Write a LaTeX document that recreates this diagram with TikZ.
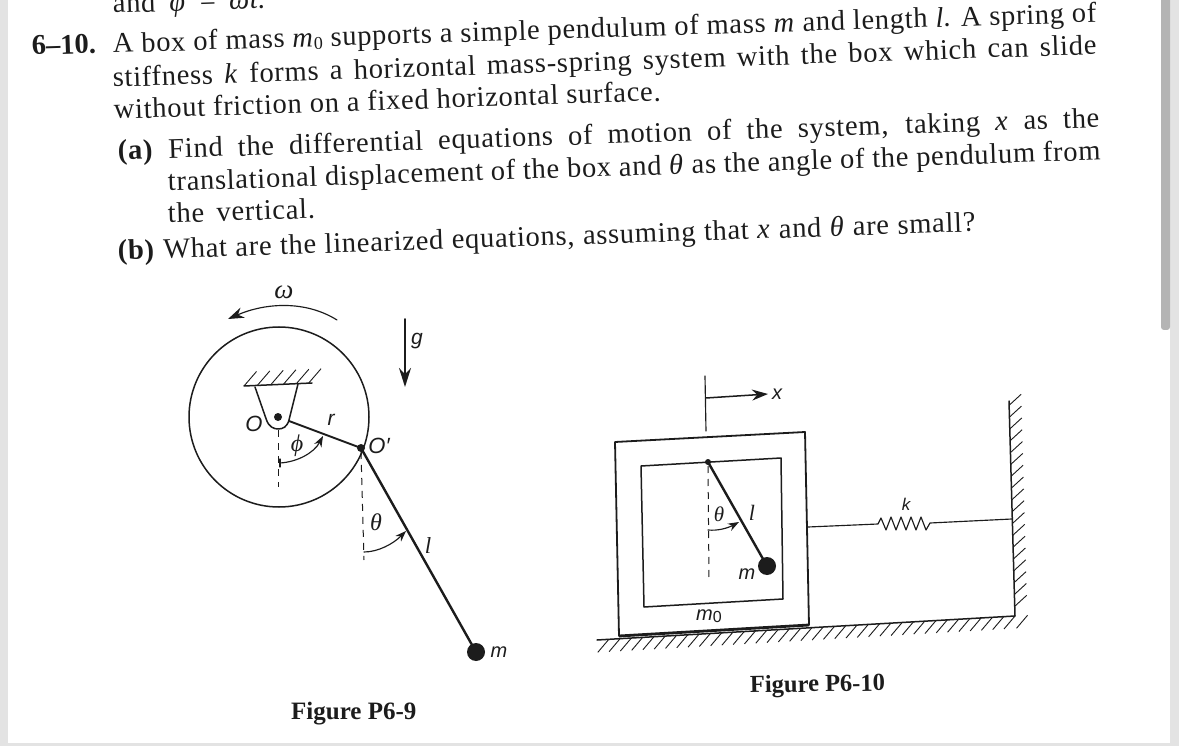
\documentclass[tikz,border=0pt]{standalone}
\usepackage{fontspec}
\setmainfont{Liberation Serif}
\newfontfamily\figfont{Liberation Sans}
\newfontfamily\bodyfont[LetterSpace=2.5]{Liberation Serif}
\usetikzlibrary{calc,arrows.meta}
\definecolor{ink}{HTML}{1C1C1C}
\definecolor{sidegray}{HTML}{E3E3E3}
\definecolor{barGray}{HTML}{B4B4B4}
\tikzset{
  txtline/.style={anchor=base west,inner sep=0pt,text=ink,rotate=1.9,font=\bodyfont\fontsize{28.5}{30}\selectfont},
  caption/.style={anchor=base west,inner sep=0pt,text=ink,font=\bfseries\fontsize{25}{27}\selectfont},
  figlabel/.style={inner sep=0pt,text=ink,font=\figfont\itshape\fontsize{20}{22}\selectfont},
  figletter/.style={inner sep=0pt,text=ink,font=\itshape\fontsize{23}{25}\selectfont},
  figgreek/.style={inner sep=0pt,text=ink,font=\itshape\fontsize{24}{26}\selectfont},
  wire/.style={draw=ink,line width=1.5pt,line cap=round,line join=round},
  hairline/.style={draw=ink,line width=1.15pt,line cap=round},
  hatch/.style={draw=ink,line width=0.9pt},
  rod/.style={draw=ink,line width=2.4pt,line cap=round},
  dashline/.style={draw=ink,line width=1pt,dash pattern=on 7pt off 6pt},
  tip/.style={-{Stealth[length=16pt,width=11pt]}},
  smalltip/.style={-{Stealth[length=11pt,width=8pt]}}
}
\newcommand{\tline}[5]{\node[txtline,#5] (#1) at (#2) {\hbox to #3pt{#4}};}
\newcommand{\mo}{\textit{m}\raisebox{-3pt}{\fontsize{18}{18}\selectfont 0}}
\begin{document}
\begin{tikzpicture}[x=1pt,y=-1pt]
\useasboundingbox (0,0) rectangle (1179,746);
\fill[white] (0,0) rectangle (1179,746);
\fill[sidegray] (0,0) rectangle (8,746);
\fill[sidegray] (1170,0) rectangle (1179,746);
\fill[sidegray] (0,743) rectangle (1179,746);
\fill[barGray,rounded corners=3pt] (1161,-8) rectangle (1170,330);
% text
\node[txtline] (l0) at (113,13) {\hbox to 152pt{and\hskip 14pt\textit{φ}\hskip 14pt=\hskip 13pt\textit{ωt}.\hss}};
\node[txtline,font=\bfseries\fontsize{28.5}{30}\selectfont] (num) at (32,55) {6–10.};
\tline{l1}{113,53}{984}{A box of mass \mo{} supports a simple pendulum of mass \textit{m} and length \textit{l}. A spring of}{rotate=-0.1}
\tline{l2}{113,87}{984}{stiffness \textit{k} forms a horizontal mass-spring system with the box which can slide}{}
\tline{l3}{114,119}{547}{without friction on a fixed horizontal surface.}{}
\tline{a1}{118,160}{982}{\textbf{(a)} Find the differential equations of motion of the system, taking \textit{x} as the}{}
\tline{a2}{168,191}{933}{translational displacement of the box and \textit{θ} as the angle of the pendulum from}{}
\tline{a3}{168,223}{147}{the vertical.}{}
\tline{b1}{118,260}{858}{\textbf{(b)} What are the linearized equations, assuming that \textit{x} and \textit{θ} are small?}{}
\node[caption] (cap9) at (291,719) {Figure P6-9};
\node[caption,rotate=1,font=\bfseries\fontsize{24.5}{26}\selectfont] (cap10) at (750,693) {Figure P6-10};
% ---------- Figure P6-9
\node[draw=ink,line width=1.5pt,circle,minimum size=180pt,inner sep=0pt] (disc) at (279,417) {};
\coordinate (ceilL) at (244,386); \coordinate (ceilR) at (312,383);
\draw[wire] (ceilL) -- (ceilR);
\foreach \t in {0,0.196,0.393,0.58,0.77,0.95}
  \draw[hatch] ($(ceilL)!\t!(ceilR)$) -- +(12.5,-14.5);
\draw[wire] (255,387) -- (266.5,420) .. controls (269,427) and (274,429) .. (278,429)
  .. controls (283,429) and (287,427) .. (289,420) -- (298,384);
\node[fill=ink,circle,minimum size=8pt,inner sep=0pt] (piv) at (278,417) {};
\coordinate (dashA) at (278,430); \coordinate (dashB) at (278,487);
\draw[dashline] (dashA) -- (dashB);
\node[fill=ink,circle,minimum size=8pt,inner sep=0pt] (op) at (361,448) {};
\coordinate (rEnd) at (289,421);
\draw[wire,line width=1.9pt] (rEnd) -- (op.center);
\node[fill=ink,circle,minimum size=18pt,inner sep=0pt] (bob9) at (476,652) {};
\draw[rod] (op.center) -- (bob9.center);
\coordinate (dashC) at (361,452); \coordinate (dashD) at (364,560);
\draw[dashline] (dashC) -- (dashD);
\draw[hairline,smalltip] (364,552) .. controls (378,552) and (393,544) .. (406,531);
\draw[hairline] (280,459) -- (280,467);
\draw[hairline,smalltip] (280,463) .. controls (297,462) and (314,453) .. (323,436);
\draw[hairline,tip] (337,320) .. controls (305,300) and (265,303) .. (228,319);
\coordinate (gTop) at (405,319); \coordinate (gBot) at (405,387);
\draw[wire,line width=1.8pt,-{Stealth[length=19pt,width=12pt]}] (gTop) -- (gBot);
\node[figgreek,font=\itshape\fontsize{27}{29}\selectfont] (omega) at (284,292) {ω};
\node[figlabel,font=\figfont\itshape\fontsize{21}{23}\selectfont] (glab) at (417,341) {g};
\node[figlabel,font=\figfont\itshape\fontsize{22}{24}\selectfont] (Olab) at (254,424) {O};
\node[figlabel,font=\figfont\itshape\fontsize{21}{23}\selectfont] (rlab) at (331,420) {r};
\node[figgreek] (philab) at (297,446) {ϕ};
\node[figlabel,font=\figfont\itshape\fontsize{22}{24}\selectfont] (Oplab) at (379,446) {O′};
\node[figgreek] (th9) at (376,522) {θ};
\node[figletter] (l9) at (428,546) {l};
\node[figlabel] (m9) at (499,652) {m};
% ---------- Figure P6-10
\coordinate (oA) at (615,442); \coordinate (oB) at (805,432);
\coordinate (oC) at (809,625); \coordinate (oD) at (619,636);
\draw[wire,line width=1.8pt] (oD) -- (oA) -- (oB) -- (oC);
\draw[draw=ink,line width=2.8pt] (oD) -- (oC);
\coordinate (iA) at (641,466); \coordinate (iB) at (781,458);
\coordinate (iC) at (783,599); \coordinate (iD) at (644,607);
\draw[wire] (iA) -- (iB) -- (iC) -- (iD) -- cycle;
\node[fill=ink,circle,minimum size=6pt,inner sep=0pt] (piv10) at (708,462) {};
\node[fill=ink,circle,minimum size=18pt,inner sep=0pt] (bob10) at (767,566) {};
\draw[rod] (piv10.center) -- (bob10.center);
\coordinate (d10a) at (708,466); \coordinate (d10b) at (709,578);
\draw[dashline] (d10a) -- (d10b);
\draw[hairline,smalltip] (708,530) .. controls (718,531) and (728,528) .. (739,522);
\coordinate (mkTop) at (705,376); \coordinate (mkBot) at (706,431);
\draw[hairline] (mkTop) -- (mkBot);
\coordinate (xS) at (706,398); \coordinate (xE) at (768,394);
\draw[wire,tip] (xS) -- (xE);
\node[figlabel] (xlab) at (777,394) {x};
\coordinate (wTop) at (1009,401); \coordinate (corner) at (1015,616);
\coordinate (fL) at (597,640);
\draw[wire] (wTop) -- (corner) -- (fL);
\foreach \t in {0.02,0.075,...,1.0}
  \draw[hatch] ($(wTop)!\t!(corner)$) -- +(12,-11);
\foreach \t in {-0.03,0.0,0.027,...,0.975}
  \draw[hatch] ($(corner)!\t!(fL)$) -- +(-11,13);
\coordinate (sA) at (808,527); \coordinate (sB) at (878,524);
\coordinate (sC) at (930,523); \coordinate (sD) at (1012,519);
\draw[hairline,line join=round] (sA) -- (sB) -- (881,518) -- (886,530) -- (891,517) -- (896,530) -- (901,517) -- (906,530) -- (911,517) -- (916,530) -- (921,517) -- (926,530) -- (sC) -- (sD);
\node[figlabel,font=\figfont\itshape\fontsize{17}{19}\selectfont] (klab) at (906,504) {k};
\node[figgreek,font=\itshape\fontsize{21}{23}\selectfont] (th10) at (719,514) {θ};
\node[figletter,font=\itshape\fontsize{22}{24}\selectfont] (l10) at (752,513) {l};
\node[figlabel] (m10) at (747,574) {m};
\node[figlabel] (m0lab) at (709,616) {m\raisebox{-2pt}{\fontsize{16}{16}\selectfont\upshape 0}};
\end{tikzpicture}
\end{document}
